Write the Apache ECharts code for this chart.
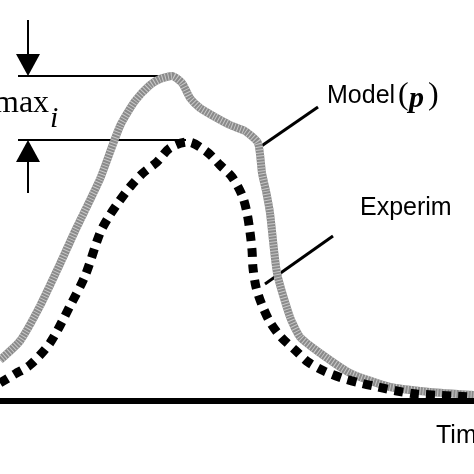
<!DOCTYPE html>
<html><head><meta charset="utf-8">
<script src="https://cdn.jsdelivr.net/npm/echarts@6/dist/echarts.min.js"></script>
<style>html,body{margin:0;padding:0;background:#fff}#c{width:474px;height:474px}</style>
</head><body><div id="c"></div>
<script>
// x = time (px-scale), y = height above baseline
const modelX = [0,20,40,60,75,100,120,135,150,160,172,182,190,200,215,230,245,258,262,266,270,277,290,300,320,350,390,430,474];
const modelY = [41,60,95,137,170,222,275,300,316,322,325,318,303,293,284,276,270,258,228,210,188,128,84,64,48,28,14,9,6];
const expX = [0,15,30,50,70,85,100,108,118,130,143,157,170,188,207,220,232,242,247,250,252,253,256,262,270,281,295,308,324,342,360,378,397,417,474];
const expY = [18,27,36,58,95,125,168,183,198,214,228,239,253,259,249,236,224,206,188,169,151,133,114,96,79,64,51,39,30,23,18,14,10,7,4];
const toPairs = (xs, ys) => xs.map((x, i) => [x, ys[i]]);
const chart = echarts.init(document.getElementById('c'));
chart.setOption({
  animation: false,
  grid: {left: 0, right: 0, top: 0, bottom: 73},
  xAxis: {type: 'value', min: 0, max: 474, show: false},
  yAxis: {type: 'value', min: 0, max: 401, show: false},
  series: [
    {type: 'line', data: toPairs(modelX, modelY), smooth: 0.2, symbol: 'none',
     lineStyle: {color: '#8a8a8a', width: 8}},
    {type: 'line', data: toPairs(modelX, modelY), smooth: 0.2, symbol: 'none',
     lineStyle: {color: '#c8c8c8', width: 8, type: [1, 2]}, z: 3},
    {type: 'line', data: toPairs(expX, expY), smooth: 0.3, symbol: 'none',
     lineStyle: {color: '#000', width: 9, type: [9, 7], cap: 'butt'}, z: 4},
    {type: 'line', data: [[0, 0], [474, 0]], symbol: 'none',
     lineStyle: {color: '#000', width: 6}, z: 5}
  ],
  graphic: [
    {type: 'line', shape: {x1: 18, y1: 76, x2: 172, y2: 76}, style: {stroke: '#000', lineWidth: 2}},
    {type: 'line', shape: {x1: 18, y1: 140, x2: 186, y2: 140}, style: {stroke: '#000', lineWidth: 2}},
    {type: 'line', shape: {x1: 28, y1: 20, x2: 28, y2: 60}, style: {stroke: '#000', lineWidth: 2}},
    {type: 'polygon', shape: {points: [[16, 54], [40, 54], [28, 76]]}, style: {fill: '#000'}},
    {type: 'line', shape: {x1: 28, y1: 155, x2: 28, y2: 193}, style: {stroke: '#000', lineWidth: 2}},
    {type: 'polygon', shape: {points: [[16, 162], [40, 162], [28, 140]]}, style: {fill: '#000'}},
    {type: 'text', left: -6, top: 88, style: {text: 'max', font: '32px "Liberation Serif"', fill: '#000'}},
    {type: 'text', left: 50, top: 104, style: {text: 'i', font: 'italic 30px "Liberation Serif"', fill: '#000'}},
    {type: 'text', left: 327, top: 84, style: {text: 'Model', font: '25px "Liberation Sans"', fill: '#000'}},
    {type: 'text', left: 398, top: 80, style: {text: '(', font: '32px "Liberation Serif"', fill: '#000'}},
    {type: 'text', left: 409, top: 84, style: {text: 'p', font: 'bold italic 30px "Liberation Serif"', fill: '#000'}},
    {type: 'text', left: 428, top: 80, style: {text: ')', font: '32px "Liberation Serif"', fill: '#000'}},
    {type: 'line', shape: {x1: 260, y1: 147, x2: 318, y2: 107}, style: {stroke: '#000', lineWidth: 3}},
    {type: 'text', left: 360, top: 196, style: {text: 'Experim', font: '25px "Liberation Sans"', fill: '#000'}},
    {type: 'line', shape: {x1: 265, y1: 284, x2: 333, y2: 236}, style: {stroke: '#000', lineWidth: 3}},
    {type: 'text', left: 436, top: 424, style: {text: 'Tim', font: '25px "Liberation Sans"', fill: '#000'}}
  ]
});
</script></body></html>
